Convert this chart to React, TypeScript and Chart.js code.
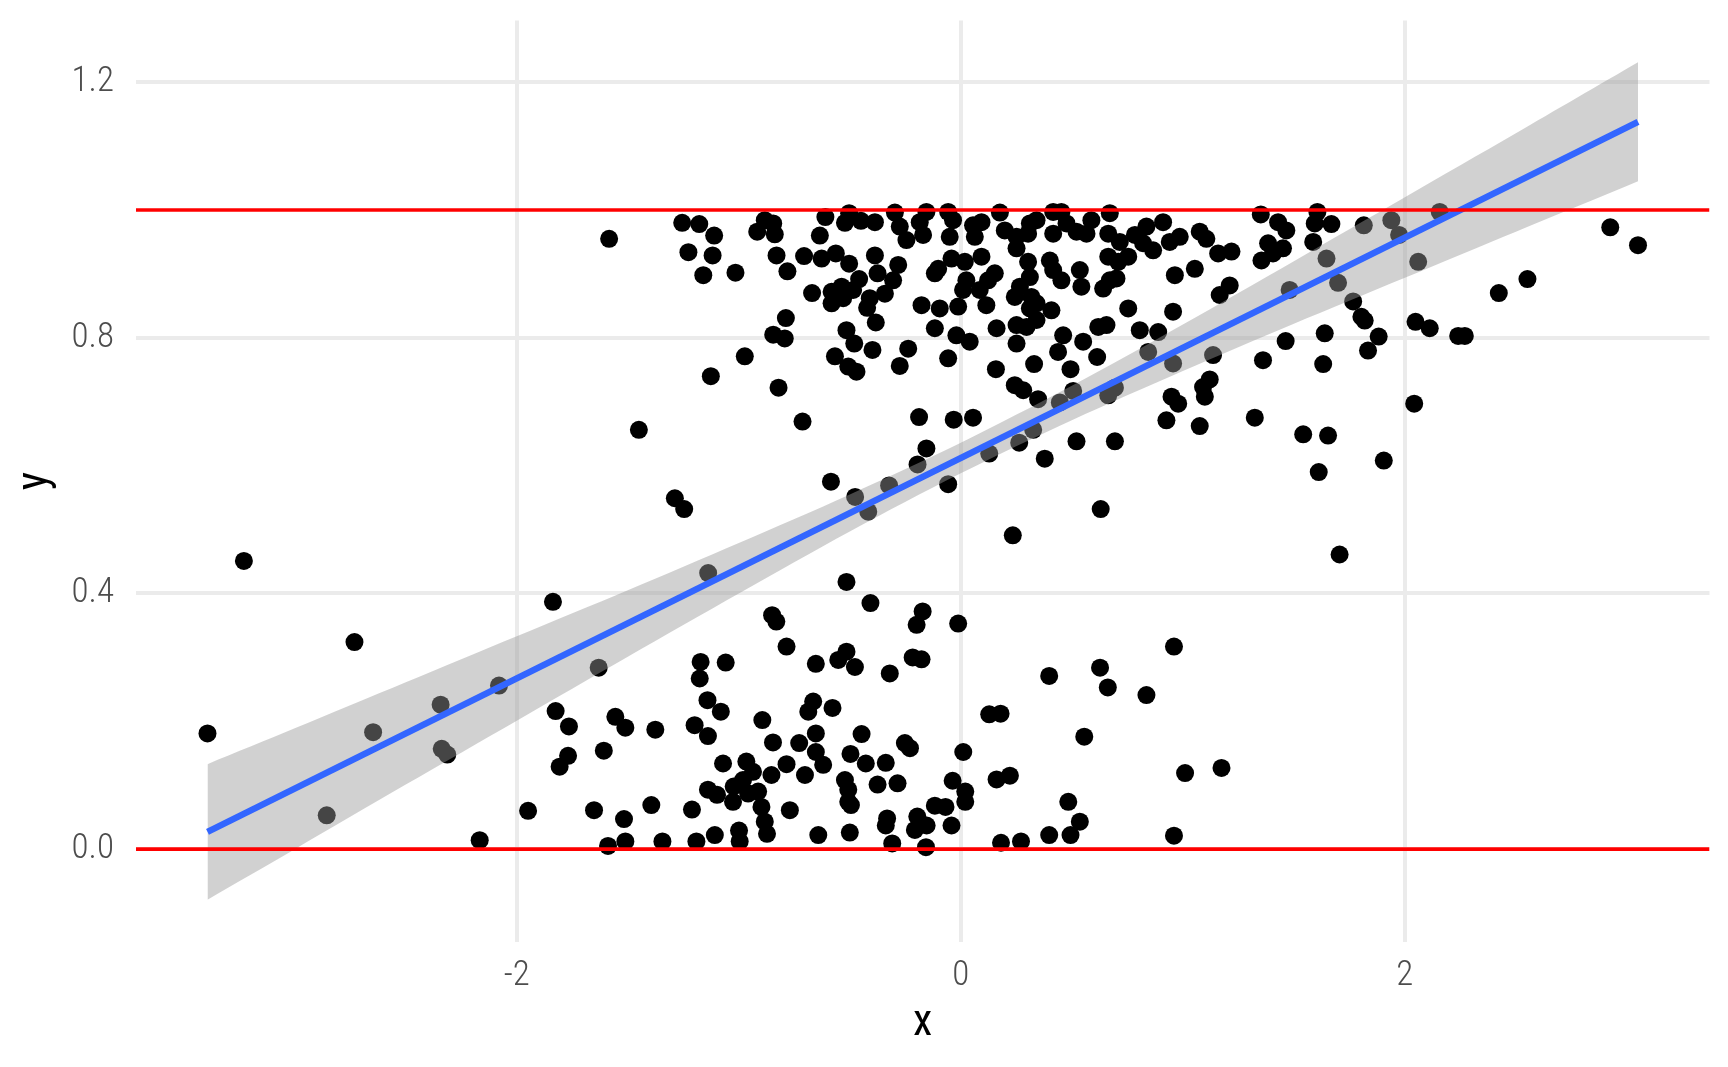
import { useEffect, useRef } from 'react'
import { Chart, registerables } from 'chart.js'

Chart.register(...registerables)

const W = 1728
const H = 1067
const FONT = '"Roboto Condensed", "Liberation Sans Narrow", "DejaVu Sans Condensed", sans-serif'

// axis limits (ggplot default expansion of the data range)
const X_MIN = -3.715
const X_MAX = 3.372
const Y_MIN = -0.1445
const Y_MAX = 1.2965
const xTicks = [-2, 0, 2]
const yTicks = [0, 0.4, 0.8, 1.2]
const hLines = [0, 1]

// observed points
const pointX = [
  // upper-left cluster
  -1.584, -1.255, -1.178, -1.111, -1.227, -1.118, -1.16, -1.015, -0.883, -0.917,
  -0.845, -0.838, -0.83, -0.781, -0.706, -0.635, -0.61, -0.627, -0.563, -0.503,
  -0.503, -0.522, -0.45, -0.387, -0.458, -0.67, -0.582, -0.537, -0.485, -0.53,
  -0.582, -0.41, -0.422, -0.387, -0.375, -0.383, -0.788, -0.845, -0.793, -0.515,
  -0.48, -0.398, -0.567, -0.507, -0.47, -0.973, -1.126, -0.821, -0.713, -1.45,
  -0.585, -0.476, -0.417, -1.288, -1.246,
  // upper-middle cluster
  -0.297, -0.155, -0.057, 0.176, 0.416, 0.453, 0.671,
  -0.275, -0.245, -0.185, -0.17, -0.035, -0.05, 0.055, 0.093, 0.063, 0.198,
  0.251, 0.251, 0.311, 0.341, 0.303, 0.416, 0.476, 0.521, 0.566, 0.588,
  0.664, 0.716, 0.784, 0.836, 0.911, 0.866, 0.941, 0.821,
  -0.282, -0.305, -0.342, -0.117, -0.102, -0.042, 0.018, 0.093, 0.153, 0.123,
  0.025, 0.01, 0.085, 0.303, 0.311, 0.266, 0.243, 0.401, 0.416, 0.453,
  0.536, 0.543, 0.664, 0.709, 0.754, 0.671, 0.641, 0.701, 0.964,
  -0.177, -0.095, -0.012, 0.115, 0.318, 0.341, 0.311, 0.408, 0.754, 0.956,
  -0.117, -0.02, 0.04, 0.161, 0.251, 0.296, 0.341, 0.619, 0.656, 0.806, 0.889, 0.251, 0.461, 0.551, 0.438,
  -0.237, -0.275, -0.057, 0.158, 0.33, 0.494, 0.614, 0.243, 0.281, 0.348, 0.446, 0.506, 0.664, 0.694,
  0.844, 0.956, 0.949, 0.979, 0.926,
  -0.188, -0.032, 0.055, -0.155, -0.195, -0.323, -0.057, 0.128, 0.263, 0.326, 0.378, 0.521, 0.694, 0.63,
  // upper-right cluster
  0.986, 1.076, 1.106, 1.054, 1.159, 1.219, 1.211, 1.166, 1.351, 1.429,
  1.466, 1.384, 1.451, 1.406, 1.354, 1.606, 1.594, 1.669, 1.587, 1.647,
  1.815, 1.939, 1.974, 2.157, 2.06, 1.481, 1.699, 1.767, 1.804, 1.819,
  1.882, 2.048, 2.112, 2.24, 2.27, 1.834, 1.639, 1.463, 1.361, 1.632,
  1.136, 1.121, 1.091, 1.099, 1.076, 1.324, 1.542, 1.654, 2.042, 1.905, 1.612,
  // lower-left cluster
  -1.837, -1.138, -1.631, -2.08, -1.825, -1.765, -1.769, -1.807, -1.556, -1.511,
  -1.376, -1.608, -1.949, -1.652, -1.517, -1.394, -2.167, -1.589, -1.511, -1.344,
  -1.191, -1.211, -1.172, -1.176, -1.059, -1.141, -1.081, -1.199, -1.139, -1.071,
  -1.139, -1.098, -1.023, -1.026, -0.966, -0.936, -0.981, -0.958, -0.913, -0.898,
  -0.883, -0.873, -1.108, -0.999, -0.996, -0.894, -0.85, -0.831, -0.846, -0.853,
  // lower-middle cluster
  -0.785, -0.785, -0.77, -0.515, -0.407, -0.653, -0.552, -0.515, -0.477, -0.32,
  -0.217, -0.177, -0.172, -0.199, -0.012, 0.398, -0.665, -0.687, -0.578, -0.653,
  -0.728, -0.653, -0.62, -0.702, -0.447, -0.497, -0.428, -0.338, -0.252, -0.229,
  -0.522, -0.507, -0.507, -0.495, -0.375, -0.285, -0.642, -0.5, -0.332, -0.338,
  -0.309, -0.196, -0.207, -0.154, -0.157, -0.117, -0.069, -0.042, -0.037, 0.02,
  0.02, 0.011, 0.128, 0.179, 0.161, 0.221, 0.181, 0.271, 0.398, 0.494,
  0.484, 0.556, 0.536,
  // stragglers
  -3.393, -3.229, -2.856, -2.731, -2.647, -2.343, -2.338, -2.313, 0.234, 1.706,
  0.96, 0.836, 1.01, 1.174, 0.96, 0.627, 0.662, 3.05, 2.925, 2.552, 2.423,
]

const pointY = [
  0.955, 0.98, 0.978, 0.96, 0.934, 0.929, 0.898, 0.902, 0.984, 0.966,
  0.979, 0.962, 0.929, 0.904, 0.928, 0.96, 0.989, 0.924, 0.932, 0.916,
  0.995, 0.98, 0.983, 0.981, 0.892, 0.87, 0.872, 0.88, 0.875, 0.862,
  0.854, 0.862, 0.847, 0.929, 0.901, 0.824, 0.831, 0.805, 0.799, 0.812,
  0.791, 0.781, 0.771, 0.755, 0.747, 0.771, 0.74, 0.722, 0.669, 0.656,
  0.575, 0.551, 0.528, 0.549, 0.532,

  0.996, 0.997, 0.997, 0.996, 0.997, 0.997, 0.995,
  0.974, 0.953, 0.981, 0.961, 0.984, 0.958, 0.976, 0.981, 0.958, 0.968,
  0.958, 0.94, 0.979, 0.984, 0.963, 0.963, 0.979, 0.966, 0.963, 0.984,
  0.963, 0.95, 0.961, 0.974, 0.981, 0.937, 0.95, 0.948,
  0.914, 0.89, 0.869, 0.901, 0.908, 0.924, 0.919, 0.927, 0.901, 0.89,
  0.89, 0.875, 0.875, 0.919, 0.895, 0.88, 0.864, 0.921, 0.906, 0.89,
  0.906, 0.88, 0.927, 0.919, 0.927, 0.89, 0.877, 0.893, 0.898,
  0.851, 0.846, 0.849, 0.851, 0.864, 0.854, 0.846, 0.843, 0.846, 0.841,
  0.815, 0.804, 0.794, 0.815, 0.82, 0.817, 0.828, 0.817, 0.82, 0.812, 0.809, 0.791, 0.804, 0.794, 0.778,
  0.783, 0.756, 0.768, 0.751, 0.759, 0.751, 0.77, 0.726, 0.718, 0.704, 0.699, 0.717, 0.71, 0.722,
  0.778, 0.76, 0.708, 0.697, 0.671,
  0.676, 0.672, 0.675, 0.627, 0.602, 0.569, 0.571, 0.619, 0.636, 0.656, 0.611, 0.638, 0.638, 0.532,

  0.958, 0.966, 0.955, 0.908, 0.932, 0.935, 0.882, 0.867, 0.993, 0.981,
  0.968, 0.948, 0.94, 0.932, 0.921, 0.997, 0.979, 0.978, 0.95, 0.924,
  0.976, 0.984, 0.961, 0.997, 0.919, 0.875, 0.886, 0.857, 0.833, 0.827,
  0.802, 0.825, 0.815, 0.803, 0.803, 0.78, 0.807, 0.795, 0.765, 0.759,
  0.773, 0.735, 0.723, 0.708, 0.662, 0.675, 0.649, 0.647, 0.697, 0.608, 0.59,

  0.387, 0.432, 0.284, 0.256, 0.216, 0.192, 0.146, 0.129, 0.207, 0.19,
  0.187, 0.154, 0.06, 0.061, 0.047, 0.069, 0.014, 0.005, 0.012, 0.012,
  0.012, 0.062, 0.293, 0.267, 0.292, 0.233, 0.215, 0.194, 0.177, 0.134,
  0.093, 0.085, 0.098, 0.074, 0.137, 0.121, 0.108, 0.087, 0.09, 0.066,
  0.043, 0.024, 0.022, 0.029, 0.012, 0.202, 0.366, 0.356, 0.167, 0.116,

  0.317, 0.133, 0.061, 0.418, 0.385, 0.29, 0.296, 0.309, 0.285, 0.275,
  0.3, 0.297, 0.372, 0.351, 0.353, 0.271, 0.231, 0.215, 0.221, 0.181,
  0.166, 0.152, 0.132, 0.116, 0.18, 0.149, 0.134, 0.135, 0.166, 0.158,
  0.108, 0.093, 0.074, 0.069, 0.101, 0.103, 0.022, 0.026, 0.048, 0.037,
  0.009, 0.051, 0.03, 0.037, 0.003, 0.068, 0.066, 0.037, 0.107, 0.09,
  0.074, 0.152, 0.211, 0.212, 0.109, 0.115, 0.01, 0.012, 0.022, 0.022,
  0.074, 0.176, 0.043,

  0.181, 0.451, 0.053, 0.324, 0.183, 0.226, 0.157, 0.148, 0.491, 0.461,
  0.317, 0.241, 0.119, 0.127, 0.021, 0.284, 0.253, 0.945, 0.973, 0.892, 0.87,
]

// linear fit and its confidence band
const fitX = [-3.393, 3.05]
const fitY = [0.027, 1.138]
const bandX = [-3.393, -3, -2.5, -2, -1.5, -1, -0.5, 0, 0.5, 1, 1.5, 2, 2.5, 3.05]
const bandHi = [0.133, 0.189, 0.261, 0.333, 0.405, 0.479, 0.555, 0.636, 0.725, 0.821, 0.92, 1.02, 1.12, 1.231]
const bandLo = [-0.079, 0.0, 0.101, 0.201, 0.301, 0.4, 0.497, 0.588, 0.671, 0.748, 0.822, 0.894, 0.966, 1.045]

const zip = (xs: number[], ys: number[]) =>
  xs.slice(0, Math.min(xs.length, ys.length)).map((x, i) => ({ x, y: ys[i] }))

export default function App() {
  const canvasRef = useRef<HTMLCanvasElement>(null)
  const chartRef = useRef<Chart | null>(null)

  useEffect(() => {
    document.body.style.margin = '0'
    if (!canvasRef.current) return
    chartRef.current?.destroy()

    const hLineSets = hLines.map((v) => ({
      type: 'line' as const,
      data: [
        { x: X_MIN, y: v },
        { x: X_MAX, y: v },
      ],
      borderColor: '#ff0000',
      borderWidth: 3.7,
      pointRadius: 0,
      fill: false,
      order: 0,
    }))

    chartRef.current = new Chart(canvasRef.current, {
      type: 'scatter',
      data: {
        datasets: [
          ...hLineSets,
          {
            type: 'line',
            data: zip(fitX, fitY),
            borderColor: '#3366ff',
            borderWidth: 6.5,
            pointRadius: 0,
            fill: false,
            order: 1,
          },
          {
            type: 'line',
            data: zip(bandX, bandHi),
            borderWidth: 0,
            borderColor: 'rgba(0,0,0,0)',
            backgroundColor: 'rgba(153,153,153,0.45)',
            pointRadius: 0,
            tension: 0.3,
            fill: '+1',
            order: 2,
          },
          {
            type: 'line',
            data: zip(bandX, bandLo),
            borderWidth: 0,
            borderColor: 'rgba(0,0,0,0)',
            pointRadius: 0,
            tension: 0.3,
            fill: false,
            order: 2,
          },
          {
            type: 'scatter',
            data: zip(pointX, pointY),
            backgroundColor: '#000000',
            borderWidth: 0,
            pointRadius: 9,
            pointHoverRadius: 9,
            order: 3,
          },
        ],
      },
      options: {
        animation: false,
        responsive: false,
        events: [],
        layout: { padding: { top: 20.5, right: 18.5, left: 0, bottom: 0 } },
        plugins: { legend: { display: false }, tooltip: { enabled: false } },
        scales: {
          x: {
            type: 'linear',
            min: X_MIN,
            max: X_MAX,
            afterBuildTicks: (s) => {
              s.ticks = xTicks.map((value) => ({ value }))
            },
            afterFit: (s) => {
              s.height = 125.5
              s.paddingLeft = 0
              s.paddingRight = 0
            },
            ticks: {
              color: '#4d4d4d',
              font: { family: FONT, size: 35, weight: 300 },
              padding: 14,
              callback: (v) => String(v),
            },
            grid: { color: '#ebebeb', lineWidth: 4, drawTicks: false },
            border: { display: false },
            title: {
              display: true,
              text: 'x',
              color: '#000000',
              font: { family: FONT, size: 44 },
              padding: { top: 0, bottom: 17 },
            },
          },
          y: {
            type: 'linear',
            min: Y_MIN,
            max: Y_MAX,
            afterBuildTicks: (s) => {
              s.ticks = yTicks.map((value) => ({ value }))
            },
            afterFit: (s) => {
              s.width = 136
              s.paddingTop = 0
              s.paddingBottom = 0
            },
            ticks: {
              color: '#4d4d4d',
              font: { family: FONT, size: 35, weight: 300 },
              padding: 22,
              callback: (v) => Number(v).toFixed(1),
            },
            grid: { color: '#ebebeb', lineWidth: 4, drawTicks: false },
            border: { display: false },
            title: {
              display: true,
              text: 'y',
              color: '#000000',
              font: { family: FONT, size: 44 },
              padding: { top: 10, bottom: 0 },
            },
          },
        },
      },
    })

    return () => {
      chartRef.current?.destroy()
      chartRef.current = null
    }
  }, [])

  return (
    <div style={{ width: W, height: H, background: '#ffffff' }}>
      <canvas ref={canvasRef} width={W} height={H} style={{ display: 'block' }} />
    </div>
  )
}
